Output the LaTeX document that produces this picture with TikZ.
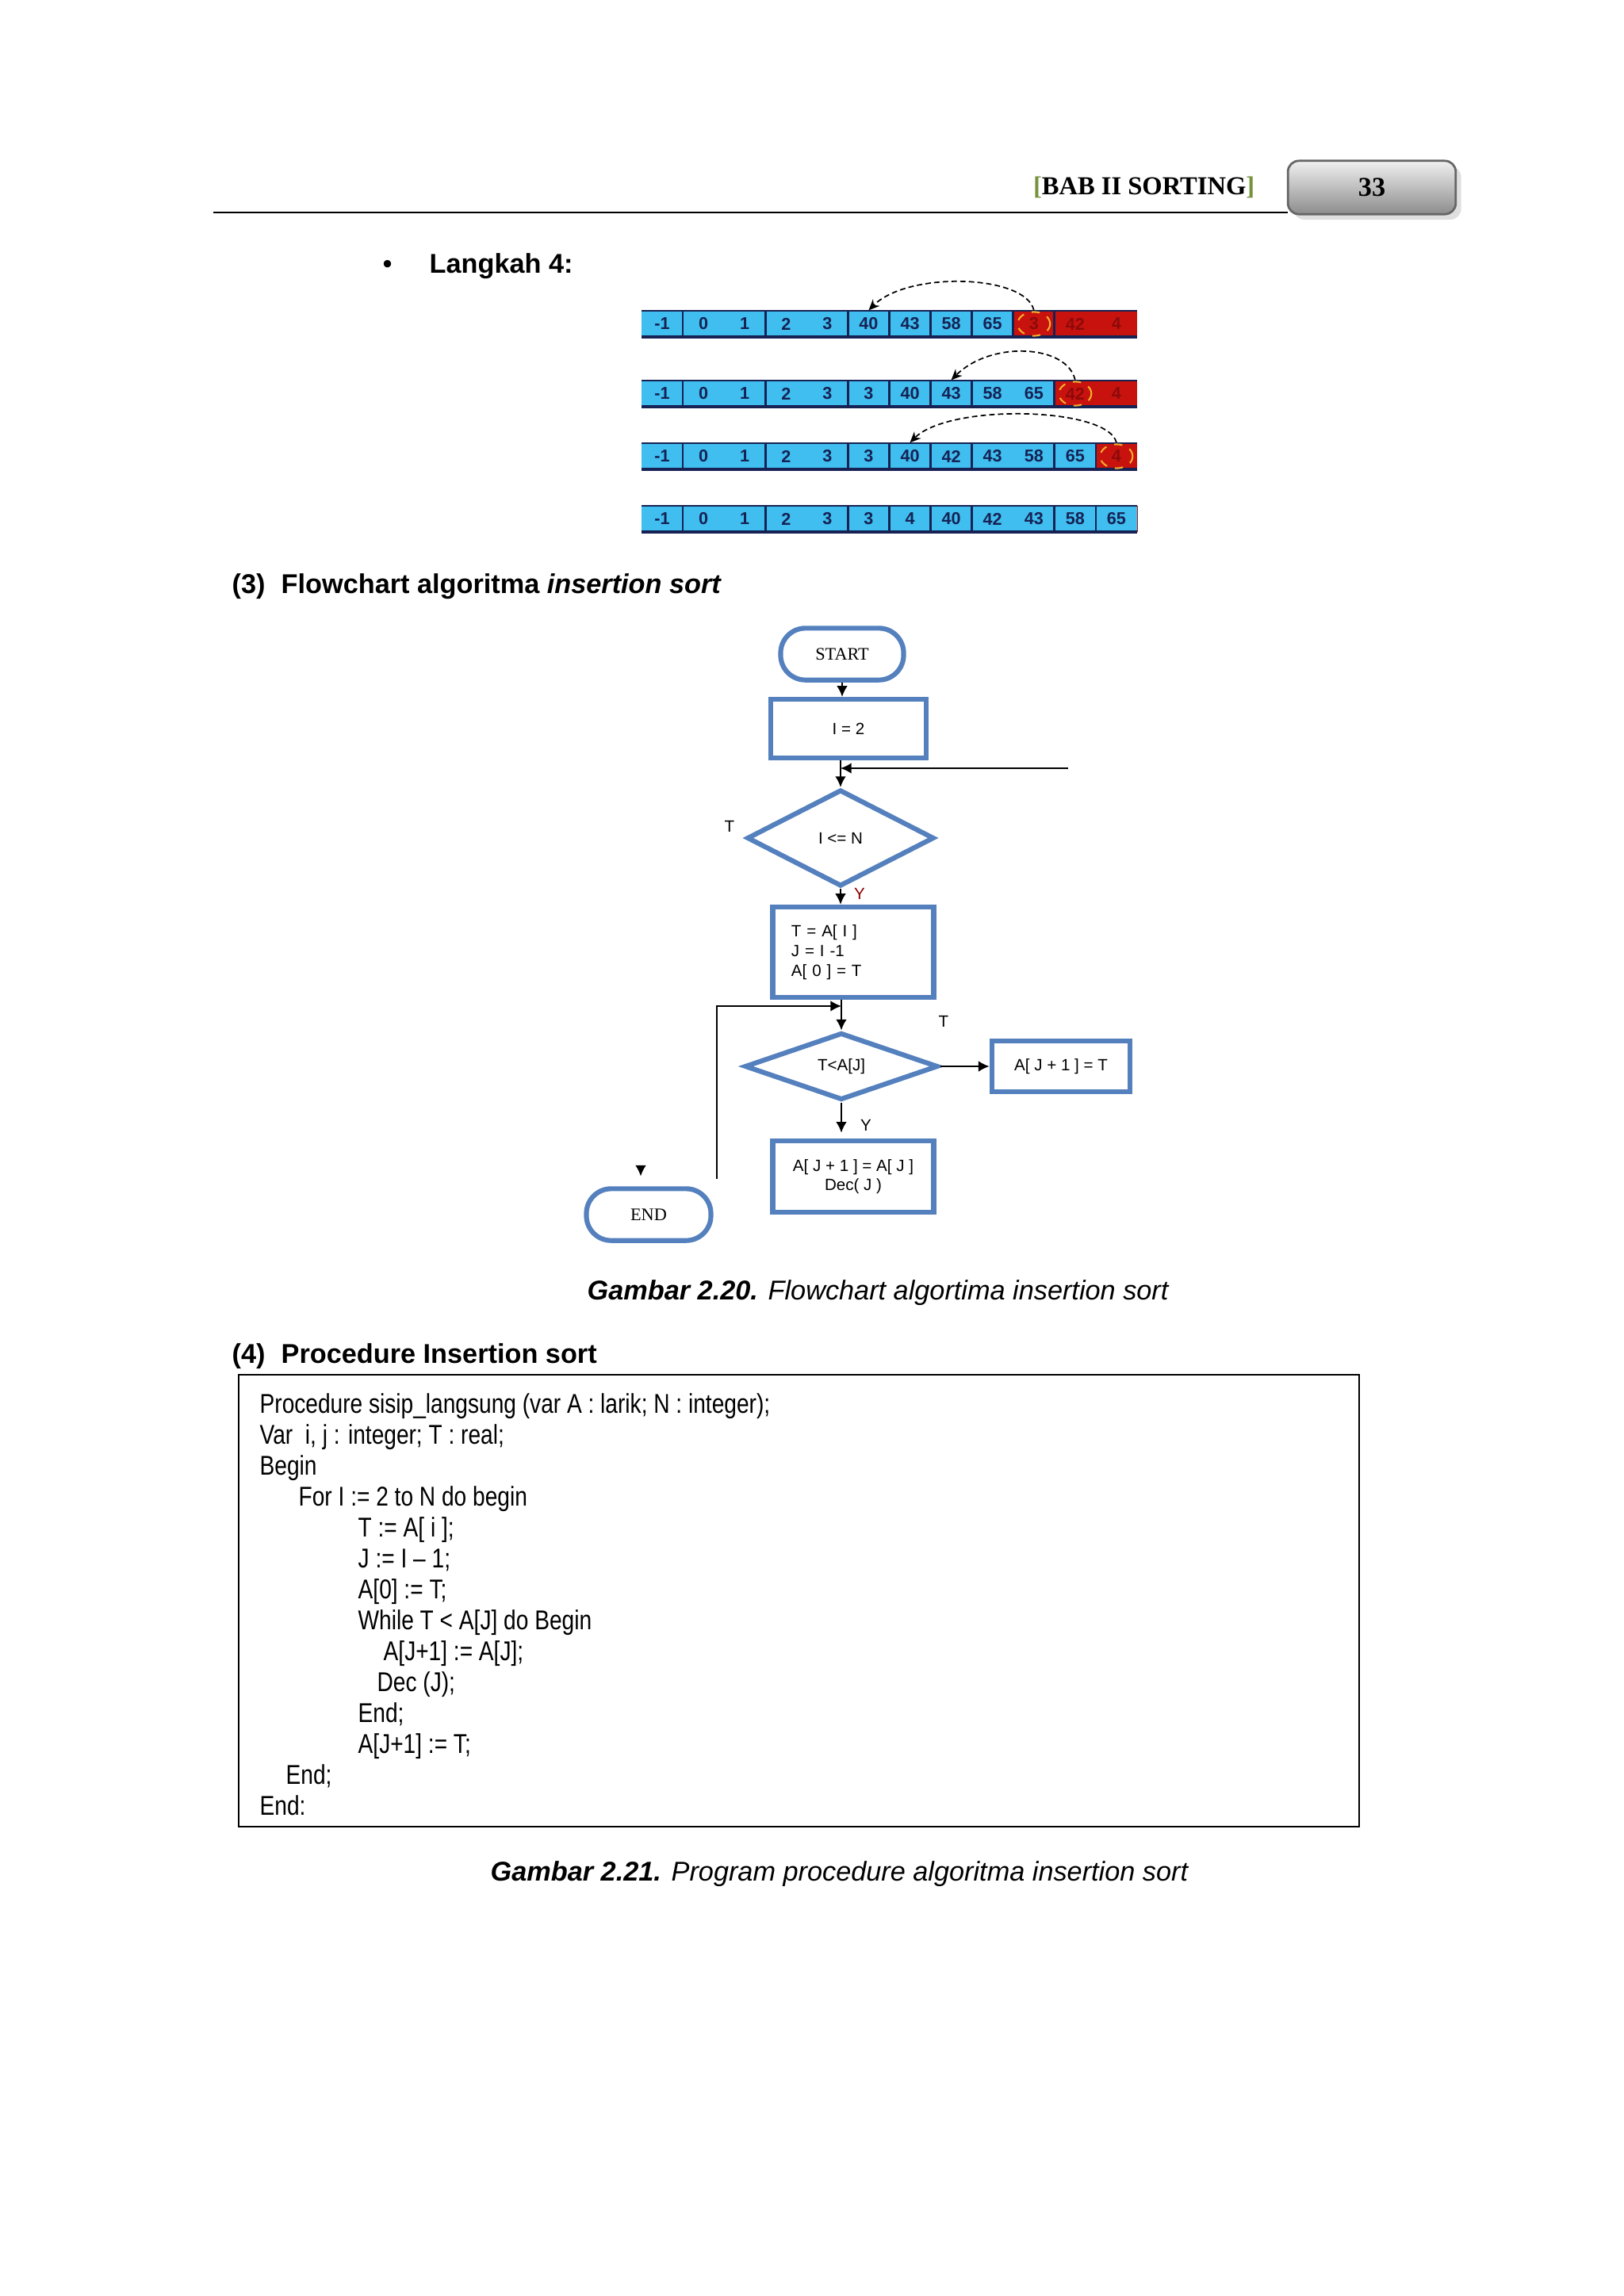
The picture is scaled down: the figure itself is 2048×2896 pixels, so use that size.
\documentclass[tikz,border=0pt]{standalone}
\usepackage{fontspec}
\setmainfont{Liberation Sans}
\newfontfamily\serifhead{Liberation Serif}
\newfontfamily\narrowcode[FakeStretch=0.82]{Liberation Sans}
\usetikzlibrary{shapes.geometric,arrows.meta,shadows,positioning}

\definecolor{cellblue}{RGB}{64,190,240}
\definecolor{cellred}{RGB}{200,18,14}
\definecolor{cellline}{RGB}{22,34,84}
\definecolor{numred}{RGB}{140,10,10}
\definecolor{ringorange}{RGB}{245,175,45}
\definecolor{fcblue}{RGB}{84,128,190}
\definecolor{headgreen}{RGB}{118,146,60}

\tikzset{
  heading/.style = {anchor=base west, inner sep=0pt,
    font=\fontsize{10}{12}\selectfont\bfseries},
  numcell/.style = {inner sep=0pt, minimum width=0.534cm, minimum height=0.338cm,
    font=\fontsize{6.3}{7}\selectfont\bfseries},
  ring/.style = {ringorange, dashed, line width=0.6pt},
  jump/.style = {dash pattern=on 2pt off 1.2pt, line width=0.5pt,
    -{Stealth[length=4pt,width=3.5pt]}},
  fcbox/.style = {draw=fcblue, line width=1.8pt, fill=white, inner sep=2pt,
    font=\fontsize{6}{7.2}\selectfont},
  fcterm/.style = {fcbox, rounded corners=0.32cm,
    font=\serifhead\fontsize{6.5}{8}\selectfont},
  fcdec/.style = {fcbox, diamond, inner sep=0pt},
  flow/.style = {line width=0.6pt, -{Latex[length=4pt,width=4pt]}},
  fclabel/.style = {inner sep=0pt, font=\fontsize{6}{7}\selectfont},
  codeline/.style = {anchor=base west, inner sep=0pt,
    font=\narrowcode\fontsize{10}{11.4}\selectfont}
}

\begin{document}
\begin{tikzpicture}[x=0.010254cm, y=-0.010254cm]
\useasboundingbox (0,0) rectangle (2048,2896);
\fill[white] (0,0) rectangle (2048,2896);

% header
\draw[line width=0.7pt] (269,268) -- (1624,268);
\node[anchor=base east, inner sep=0pt, font=\serifhead\bfseries\fontsize{9.5}{11}\selectfont]
  (bab) at (1583,245) {\textcolor{headgreen}{[}BAB II SORTING\textcolor{headgreen}{]}};
\node[draw=black!60, line width=0.8pt, rounded corners=4pt,
  top color=black!6, bottom color=black!45,
  drop shadow={opacity=0.25, shadow xshift=2pt, shadow yshift=-2pt},
  minimum width=2.17cm, minimum height=0.69cm,
  font=\serifhead\bfseries\fontsize{10}{12}\selectfont] (hal) at (1730,236.5) {33};

\node[anchor=base west, inner sep=0pt, font=\fontsize{10}{12}\selectfont] (titik) at (482,344) {\textbullet};
\node[heading] (langkah) at (541,344) {Langkah 4:};

% array rows
\foreach \ytop/\vals/\cuts/\red in {
    392/{-1,0,1,2,3,40,43,58,65,3,42,4}/{1,3,5,6,7,8,9,10}/9,
    480/{-1,0,1,2,3,3,40,43,58,65,42,4}/{1,3,5,6,7,8,10}/10,
    559/{-1,0,1,2,3,3,40,42,43,58,65,4}/{1,3,5,6,7,8,10,11}/11,
    638/{-1,0,1,2,3,3,4,40,42,43,58,65}/{1,3,5,6,7,8,10,11}/12}{
  \fill[cellblue] (809,\ytop) rectangle ({809+52.08*\red},\ytop+33);
  \fill[cellred] ({809+52.08*\red},\ytop) rectangle (1434,\ytop+33);
  \draw[cellline, line width=0.5pt] (809,\ytop) -- (1434,\ytop);
  \draw[cellline, line width=1.2pt] (809,\ytop+33) -- (1434,\ytop+33);
  \foreach \k in \cuts
    \draw[cellline, line width=0.8pt] ({809+52.08*\k},\ytop) -- ++(0,33);
  \foreach \v [count=\i from 0] in \vals {
    \ifnum\i<\red \def\numcol{cellline}\else\def\numcol{numred}\fi
    \node[numcell, text=\numcol] (r\ytop-\i) at ({809+52.08*(\i+0.5)},\ytop+16.5) {\v};
  }
}
\foreach \ytop/\from/\to in {392/9/5, 480/10/7, 559/11/6}{
  \draw[ring] (r\ytop-\from.center) ellipse [x radius=0.21cm, y radius=0.155cm];
  \draw[jump] (r\ytop-\from.north) .. controls +(-10,-45) and +(50,-50) .. (r\ytop-\to.north);
}

\node[heading] (no3) at (292,748) {(3)};
\node[heading] (judul3) at (354,748) {Flowchart algoritma \textit{insertion sort}};

% flowchart
\node[fcterm, minimum width=1.59cm, minimum height=0.67cm] (start) at (1062,825) {START};
\node[fcbox, minimum width=2.01cm, minimum height=0.76cm] (init) at (1070,919) {I = 2};
\node[fcdec, minimum width=2.42cm, minimum height=1.25cm] (cekI) at (1060,1057) {I <= N};
\node[fcbox, minimum width=2.08cm, minimum height=1.17cm, text width=1.6cm, align=left]
  (ambil) at (1076,1201) {T = A[ I ]\\ J = I -1\\ A[ 0 ] = T};
\node[fcdec, minimum width=2.5cm, minimum height=0.87cm] (cekT) at (1061,1345) {T<A[J]};
\node[fcbox, minimum width=1.79cm, minimum height=0.65cm] (simpan) at (1338,1345) {A[ J + 1 ] = T};
\node[fcbox, minimum width=2.08cm, minimum height=0.93cm, align=center]
  (geser) at (1076,1484) {A[ J + 1 ] = A[ J ]\\ Dec( J )};
\node[fcterm, minimum width=1.61cm, minimum height=0.67cm] (selesai) at (818,1532) {END};

\coordinate (balik) at (1347,969);
\coordinate (ulang) at (904,1487);
\coordinate (akhir) at (808,1472);

\draw[flow] (start.south) -- (start.south |- init.north);
\draw[flow] (init.south -| cekI.north) -- (cekI.north);
\draw[flow] (balik) -- (balik -| cekI.north);
\draw[flow] (cekI.south) -- (cekI.south |- ambil.north);
\draw[flow] (ambil.south -| cekT.north) -- (cekT.north);
\draw[flow] (ulang) |- ([yshift=-0.08cm]ambil.south -| cekT.north);
\draw[flow] (cekT.east) -- (simpan.west);
\draw[flow] (cekT.south) -- ([yshift=0.07cm]cekT.south |- geser.north);
\draw[flow] (akhir) -- ([yshift=0.13cm]selesai.north -| akhir);

\node[fclabel] (tI) at (920,1042) {T};
\node[fclabel, text=red!55!black] (yI) at (1084,1127) {Y};
\node[fclabel] (tT) at (1190,1288) {T};
\node[fclabel] (yT) at (1092,1419) {Y};

\node[anchor=base west, inner sep=0pt, font=\fontsize{10}{12}\selectfont] (cap1) at (740,1639)
  {\textbf{\textit{Gambar 2.20.}} \textit{Flowchart algortima insertion sort}};

% procedure
\node[heading] (no4) at (292,1719) {(4)};
\node[heading] (judul4) at (354,1719) {Procedure Insertion sort};
\draw[line width=0.8pt] (301,1734) rectangle (1714,2304);
\foreach \x/\baris [count=\i from 0] in {
    327/{Procedure sisip\_langsung (var A : larik; N : integer);},
    327/{Var\ \ i, j : integer; T : real;},
    327/{Begin},
    376/{For I := 2 to N do begin},
    451/{T := A[ i ];},
    451/{J := I – 1;},
    451/{A[0] := T;},
    451/{While T < A[J] do Begin},
    483/{A[J+1] := A[J];},
    475/{Dec (J);},
    451/{End;},
    451/{A[J+1] := T;},
    360/{End;},
    327/{End:}}
  \node[codeline] (kode\i) at (\x,{1782+39.05*\i}) {\baris};

\node[anchor=base west, inner sep=0pt, font=\fontsize{10}{12}\selectfont] (cap2) at (618,2372)
  {\textbf{\textit{Gambar 2.21.}} \textit{Program procedure algoritma insertion sort}};
\end{tikzpicture}
\end{document}
